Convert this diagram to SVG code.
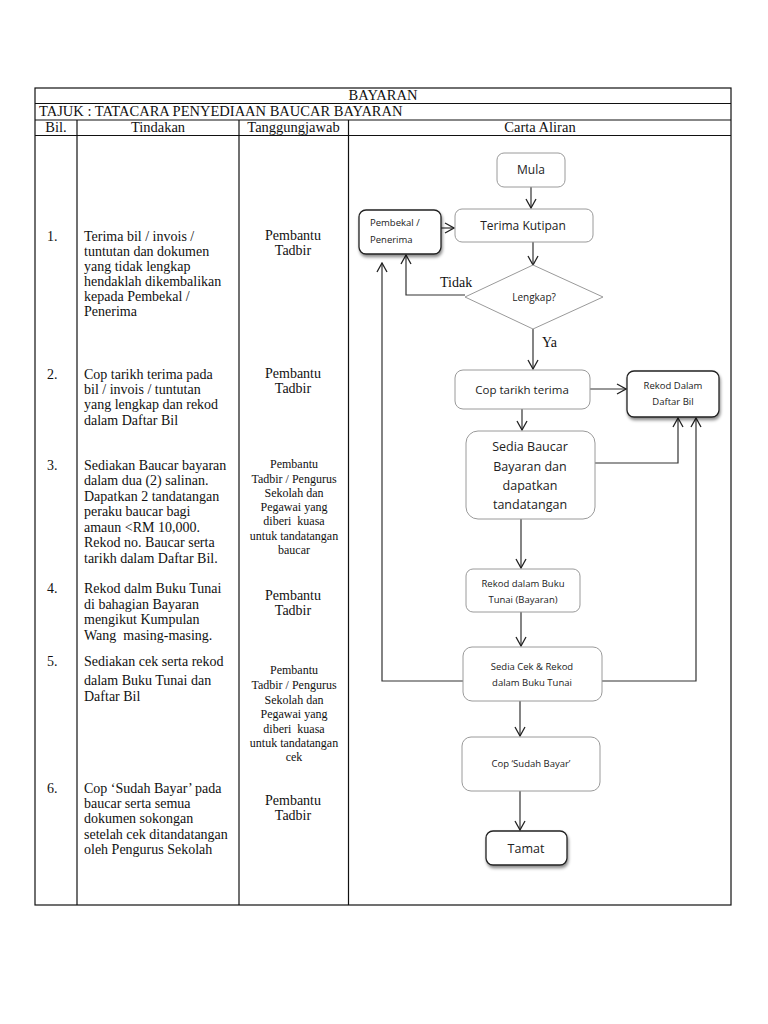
<svg xmlns="http://www.w3.org/2000/svg" width="768" height="1024" viewBox="0 0 768 1024">
<style>
.tbl{stroke:#111;stroke-width:1.2;fill:none}
.t{font-family:"Liberation Serif",serif;font-size:14px;fill:#111}
.th{font-family:"Liberation Serif",serif;font-size:14.5px;fill:#111}
.ts{font-family:"Liberation Serif",serif;font-size:12px;fill:#111}
.c{text-anchor:middle}
.f{font-family:"Open Sans","Liberation Sans",sans-serif;fill:#222;text-anchor:middle}
.fl{font-family:"Open Sans","Liberation Sans",sans-serif;fill:#222}
.box{fill:#fff;stroke:#9a9a9a;stroke-width:1}
.dbox{fill:#fff;stroke:#222;stroke-width:1.3}
.ln{stroke:#333;stroke-width:1.2;fill:none}
</style>
<defs>
<marker id="ah" viewBox="0 0 12 12" refX="11" refY="6" markerWidth="12" markerHeight="12" markerUnits="userSpaceOnUse" orient="auto">
<polyline points="2,1 11,6 2,11" fill="none" stroke="#222" stroke-width="1.3"/>
</marker>
<filter id="sh" x="-20%" y="-20%" width="150%" height="160%">
<feDropShadow dx="1" dy="2.5" stdDeviation="1.5" flood-color="#000" flood-opacity="0.45"/>
</filter>
</defs>
<rect width="768" height="1024" fill="#fff"/>

<g id="table">
<rect class="tbl" x="35" y="88" width="696" height="817"/>
<line class="tbl" x1="35" y1="103.5" x2="731" y2="103.5"/>
<line class="tbl" x1="35" y1="120" x2="731" y2="120"/>
<line class="tbl" x1="35" y1="135.5" x2="731" y2="135.5"/>
<line class="tbl" x1="77" y1="120" x2="77" y2="905"/>
<line class="tbl" x1="239" y1="120" x2="239" y2="905"/>
<line class="tbl" x1="348.5" y1="120" x2="348.5" y2="905"/>
<text class="th c" x="383" y="100">BAYARAN</text>
<text class="th" x="39" y="116">TAJUK : TATACARA PENYEDIAAN BAUCAR BAYARAN</text>
<text class="th c" x="56" y="132">Bil.</text>
<text class="th c" x="158" y="132">Tindakan</text>
<text class="th c" x="293.5" y="132">Tanggungjawab</text>
<text class="th c" x="540" y="132">Carta Aliran</text>
</g>

<g id="rows">
<text class="t" x="47" y="241">1.</text>
<text class="t" x="84" y="241">Terima bil / invois /</text>
<text class="t" x="84" y="256">tuntutan dan dokumen</text>
<text class="t" x="84" y="271">yang tidak lengkap</text>
<text class="t" x="84" y="286">hendaklah dikembalikan</text>
<text class="t" x="84" y="301">kepada Pembekal /</text>
<text class="t" x="84" y="316">Penerima</text>
<text class="t c" x="293" y="240">Pembantu</text>
<text class="t c" x="293" y="255">Tadbir</text>

<text class="t" x="47" y="379">2.</text>
<text class="t" x="84" y="379">Cop tarikh terima pada</text>
<text class="t" x="84" y="394">bil / invois / tuntutan</text>
<text class="t" x="84" y="409">yang lengkap dan rekod</text>
<text class="t" x="84" y="425">dalam Daftar Bil</text>
<text class="t c" x="293" y="378">Pembantu</text>
<text class="t c" x="293" y="393">Tadbir</text>

<text class="t" x="47" y="470">3.</text>
<text class="t" x="84" y="470">Sediakan Baucar bayaran</text>
<text class="t" x="84" y="485">dalam dua (2) salinan.</text>
<text class="t" x="84" y="501">Dapatkan 2 tandatangan</text>
<text class="t" x="84" y="516">peraku baucar bagi</text>
<text class="t" x="84" y="532">amaun &lt;RM 10,000.</text>
<text class="t" x="84" y="547">Rekod no. Baucar serta</text>
<text class="t" x="84" y="563">tarikh dalam Daftar Bil.</text>
<text class="ts c" x="294" y="468">Pembantu</text>
<text class="ts c" x="294" y="482.5">Tadbir / Pengurus</text>
<text class="ts c" x="294" y="497">Sekolah dan</text>
<text class="ts c" x="294" y="511">Pegawai yang</text>
<text class="ts c" x="294" y="525">diberi&#160; kuasa</text>
<text class="ts c" x="294" y="539.5">untuk tandatangan</text>
<text class="ts c" x="294" y="554">baucar</text>

<text class="t" x="47" y="593">4.</text>
<text class="t" x="84" y="593">Rekod dalm Buku Tunai</text>
<text class="t" x="84" y="609">di bahagian Bayaran</text>
<text class="t" x="84" y="624">mengikut Kumpulan</text>
<text class="t" x="84" y="640">Wang&#160; masing-masing.</text>
<text class="t c" x="293" y="600">Pembantu</text>
<text class="t c" x="293" y="615">Tadbir</text>

<text class="t" x="47" y="666">5.</text>
<text class="t" x="84" y="666">Sediakan cek serta rekod</text>
<text class="t" x="84" y="685">dalam Buku Tunai dan</text>
<text class="t" x="84" y="701">Daftar Bil</text>
<text class="ts c" x="294" y="674">Pembantu</text>
<text class="ts c" x="294" y="689">Tadbir / Pengurus</text>
<text class="ts c" x="294" y="703.5">Sekolah dan</text>
<text class="ts c" x="294" y="718">Pegawai yang</text>
<text class="ts c" x="294" y="732.5">diberi&#160; kuasa</text>
<text class="ts c" x="294" y="747">untuk tandatangan</text>
<text class="ts c" x="294" y="761">cek</text>

<text class="t" x="47" y="793">6.</text>
<text class="t" x="84" y="793">Cop ‘Sudah Bayar’ pada</text>
<text class="t" x="84" y="808">baucar serta semua</text>
<text class="t" x="84" y="823">dokumen sokongan</text>
<text class="t" x="84" y="839">setelah cek ditandatangan</text>
<text class="t" x="84" y="854">oleh Pengurus Sekolah</text>
<text class="t c" x="293" y="805">Pembantu</text>
<text class="t c" x="293" y="820">Tadbir</text>
</g>

<g id="connectors">
<line class="ln" x1="531" y1="187" x2="531" y2="208" marker-end="url(#ah)"/>
<line class="ln" x1="441" y1="228" x2="454" y2="228" marker-end="url(#ah)"/>
<line class="ln" x1="533" y1="242" x2="533" y2="265" marker-end="url(#ah)"/>
<polyline class="ln" points="465,295 406,295 406,255" marker-end="url(#ah)"/>
<line class="ln" x1="533" y1="329" x2="533" y2="369" marker-end="url(#ah)"/>
<line class="ln" x1="590" y1="389" x2="626" y2="389" marker-end="url(#ah)"/>
<line class="ln" x1="522" y1="409" x2="522" y2="430" marker-end="url(#ah)"/>
<polyline class="ln" points="595,463 678,463 678,418" marker-end="url(#ah)"/>
<line class="ln" x1="521" y1="519" x2="521" y2="568" marker-end="url(#ah)"/>
<line class="ln" x1="521" y1="612" x2="521" y2="646" marker-end="url(#ah)"/>
<polyline class="ln" points="463,681 382,681 382,263" marker-end="url(#ah)"/>
<polyline class="ln" points="602,681 696,681 696,418" marker-end="url(#ah)"/>
<line class="ln" x1="520" y1="701" x2="520" y2="736" marker-end="url(#ah)"/>
<line class="ln" x1="520" y1="791" x2="520" y2="830" marker-end="url(#ah)"/>
<text class="t" x="440" y="287">Tidak</text>
<text class="t" x="542" y="347">Ya</text>
</g>

<g id="mula">
<rect class="box" x="497" y="153" width="68" height="34" rx="7"/>
<text class="f" x="531" y="174" font-size="12">Mula</text>
</g>
<g id="terima-kutipan">
<rect class="box" x="455" y="209" width="138" height="33" rx="7"/>
<text class="f" x="523" y="230" font-size="12">Terima Kutipan</text>
</g>
<g id="pembekal">
<rect class="dbox" x="359" y="210" width="82" height="44" rx="7" filter="url(#sh)"/>
<text class="fl" x="370" y="226" font-size="9.5">Pembekal /</text>
<text class="fl" x="370" y="243" font-size="9.5">Penerima</text>
</g>
<g id="lengkap">
<polygon class="box" points="533,265 603,297 533,329 465,297"/>
<text class="f" x="534" y="301" font-size="10">Lengkap?</text>
</g>
<g id="cop-tarikh">
<rect class="box" x="455" y="370" width="135" height="39" rx="8"/>
<text class="f" x="522" y="394" font-size="11.5">Cop tarikh terima</text>
</g>
<g id="rekod-daftar">
<rect class="dbox" x="627" y="371" width="92" height="46" rx="7" filter="url(#sh)"/>
<text class="f" x="673" y="389" font-size="9.5">Rekod Dalam</text>
<text class="f" x="673" y="405" font-size="9.5">Daftar Bil</text>
</g>
<g id="sedia-baucar">
<rect class="box" x="466" y="431" width="129" height="88" rx="12"/>
<text class="f" x="530" y="451" font-size="12.5">Sedia Baucar</text>
<text class="f" x="530" y="471" font-size="12.5">Bayaran dan</text>
<text class="f" x="530" y="490" font-size="12.5">dapatkan</text>
<text class="f" x="530" y="509" font-size="12.5">tandatangan</text>
</g>
<g id="rekod-buku">
<rect class="box" x="466" y="569" width="114" height="43" rx="7"/>
<text class="f" x="523" y="587" font-size="9.5">Rekod dalam Buku</text>
<text class="f" x="523" y="603" font-size="9.5">Tunai (Bayaran)</text>
</g>
<g id="sedia-cek">
<rect class="box" x="463" y="647" width="139" height="54" rx="9"/>
<text class="f" x="532" y="670" font-size="9.5">Sedia Cek &amp; Rekod</text>
<text class="f" x="532" y="686" font-size="9.5">dalam Buku Tunai</text>
</g>
<g id="cop-sudah">
<rect class="box" x="462" y="737" width="138" height="54" rx="9"/>
<text class="f" x="531" y="767" font-size="9.5">Cop ‘Sudah Bayar’</text>
</g>
<g id="tamat">
<rect class="dbox" x="486" y="831" width="81" height="34" rx="7" filter="url(#sh)"/>
<text class="f" x="526" y="853" font-size="12.5">Tamat</text>
</g>
</svg>
